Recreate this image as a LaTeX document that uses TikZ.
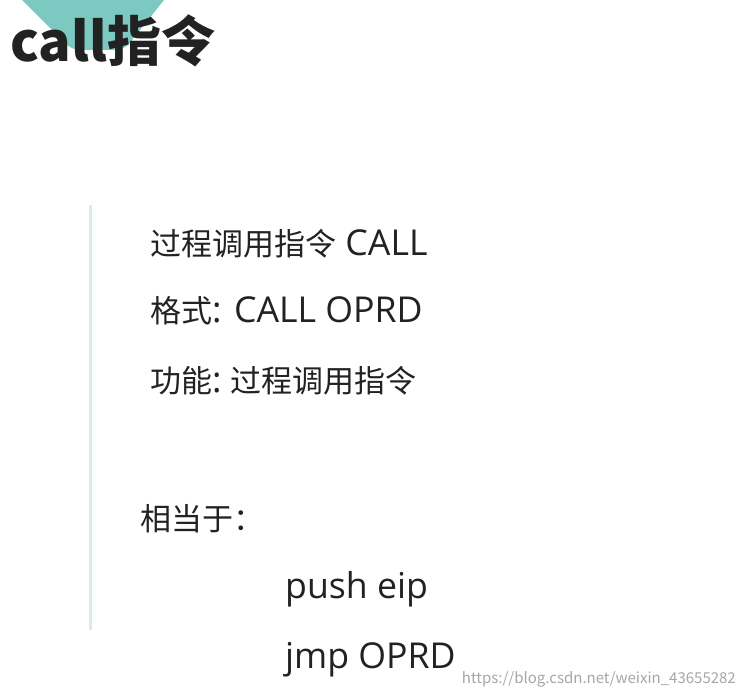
\documentclass[tikz,border=0pt]{standalone}
\usepackage{fontspec}
\setmainfont{Noto Sans CJK SC}
\newfontfamily\lat[Scale=1.15]{Open Sans}
\definecolor{teal1}{HTML}{7CC9C2}
\definecolor{bar}{HTML}{D6EEEA}
\definecolor{txt}{HTML}{222222}
\begin{document}
\begin{tikzpicture}[x=1pt,y=-1pt,
  body/.style={anchor=base west,inner sep=0,text=txt,font=\fontsize{31}{31}\selectfont}]
\useasboundingbox (0,0) rectangle (744,695);
\fill[teal1,rounded corners=8] (12,-10) -- (172,-10) -- (124,50) -- (72,50) -- cycle;
\node[anchor=base west,inner sep=0,text=txt,font=\fontsize{54}{54}\selectfont\bfseries] (title) at (10,62) {call指令};
\draw[bar,line width=3] (90,205) -- (90,630);
\node[body] (l1) at (150,255) {过程调用指令{\lat\ CALL}};
\node[body] (l2) at (150,322) {格式{\lat: CALL OPRD}};
\node[body] (l3) at (150,392) {功能{\lat:\ }过程调用指令};
\node[body] (l4) at (140,530) {相当于：};
\node[body] (l5) at (285,598) {\lat push eip};
\node[body] (l6) at (285,668) {\lat jmp OPRD};
\node[anchor=base east,inner sep=0,text=gray!70,font=\fontsize{15}{15}\selectfont] (wm) at (736,683) {https://blog.csdn.net/weixin\_43655282};
\end{tikzpicture}
\end{document}
